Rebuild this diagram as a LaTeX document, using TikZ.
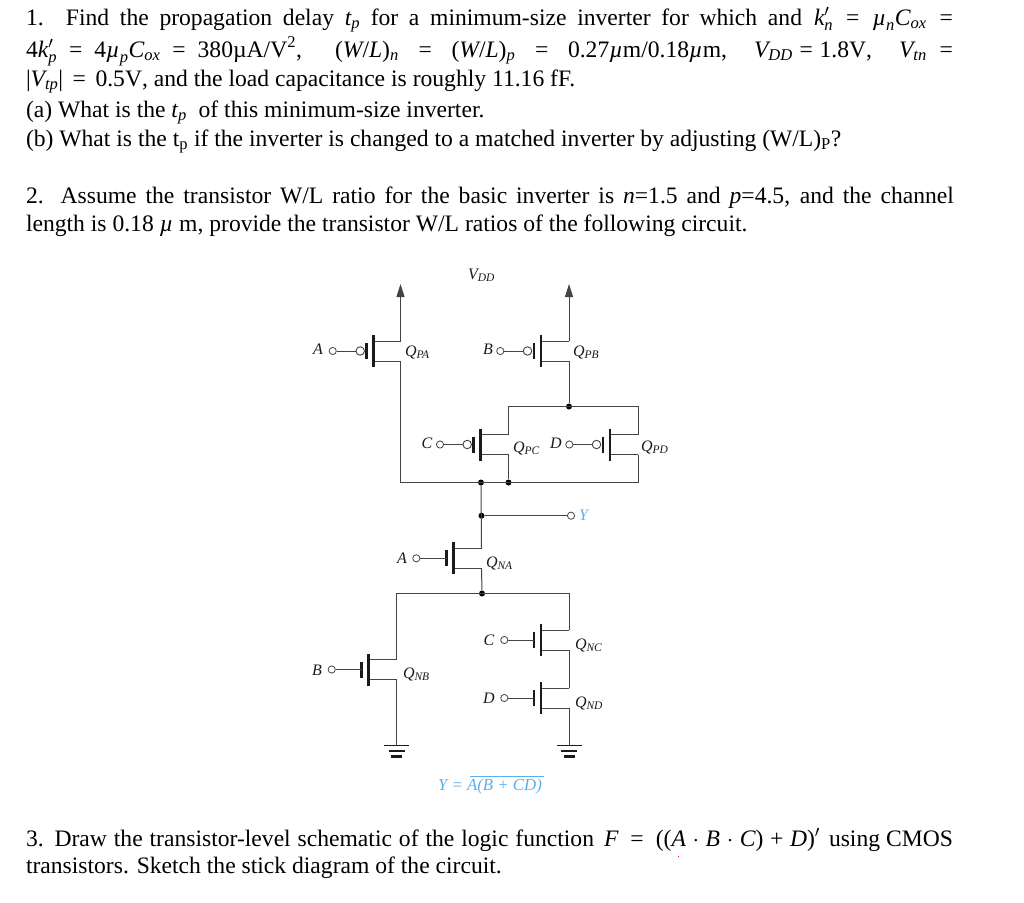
\RequirePackage{fix-cm}
\documentclass[tikz,border=0pt]{standalone}
\usepackage{fontspec}
\setmainfont{Liberation Serif}
\usetikzlibrary{arrows.meta}
\DeclareSymbolFont{myit}{\encodingdefault}{\rmdefault}{m}{it}
\DeclareSymbolFont{myrm}{\encodingdefault}{\rmdefault}{m}{n}
\makeatletter
\AtBeginDocument{%
\@for\@tmpa:=A,B,C,D,F,L,V,W,k,n,o,p,t,x\do{%
  \expandafter\DeclareMathSymbol\expandafter{\@tmpa}{\mathalpha}{myit}{\expandafter`\@tmpa}}%
\@for\@tmpa:=0,1,2,3,4,5,6,7,8,9,.,/,|\do{%
  \expandafter\DeclareMathSymbol\expandafter{\@tmpa}{\mathord}{myrm}{\expandafter`\@tmpa}}%
\DeclareMathSymbol{=}{\mathrel}{myrm}{`=}%
\DeclareMathSymbol{+}{\mathbin}{myrm}{`+}%
\DeclareMathSymbol{(}{\mathopen}{myrm}{`(}%
\DeclareMathSymbol{)}{\mathclose}{myrm}{`)}%
}
\makeatother
\newcommand\mymu{\mbox{\itshape µ}}
\definecolor{wirec}{HTML}{444444}
\definecolor{ink}{HTML}{1A1A1A}
\definecolor{sky}{HTML}{5AB0EE}
\tikzset{
  wire/.style={draw=wirec,line width=1pt},
  heavy/.style={draw=ink,line width=2.9pt},
  term/.style={circle,draw=wirec,fill=white,line width=.8pt,inner sep=0pt,minimum size=7.2pt},
  bubble/.style={circle,draw=wirec,fill=white,line width=.9pt,inner sep=0pt,minimum size=8.5pt},
  junc/.style={circle,fill=black,inner sep=0pt,minimum size=6pt},
  txt/.style={anchor=base west,inner sep=0pt,outer sep=0pt,text=black,font=\fontsize{23.6}{27}\selectfont},
  lab/.style={anchor=west,inner sep=0pt,outer sep=0pt,text=ink,font=\fontsize{16}{18}\selectfont\itshape},
  inl/.style={anchor=center,inner sep=0pt,outer sep=0pt,text=ink,font=\fontsize{16}{18}\selectfont\itshape},
  up/.style={wire,-{Triangle[length=13pt,width=8pt]}},
}
\thickmuskip=5mu plus 8mu
\newcommand\Qs[1]{\textsubscript{\fontsize{11.5}{12}\selectfont #1}}
% name, x, y, width, content: a stretch of a line set to a fixed width
\newcommand\Seg[5]{\node[txt] (#1) at (#2,#3) {\hbox to #4pt{#5}};}
% name, channel x, centre y, input x, right x, kind(0=n,1=p)
\newcommand\Trans[6]{%
  \coordinate (#1-d) at (#5,#3-10);
  \coordinate (#1-s) at (#5,#3+10);
  \coordinate (#1-ct) at (#2,#3-10);
  \coordinate (#1-cb) at (#2,#3+10);
  \coordinate (#1-top) at (#2,#3-16);
  \coordinate (#1-bot) at (#2,#3+16);
  \coordinate (#1-pt) at (#2-7,#3-8);
  \coordinate (#1-pb) at (#2-7,#3+8);
  \coordinate (#1-g) at (#2-7,#3);
  \node[term] (#1-in) at (#4,#3) {};
  \draw[wire] (#1-d) -- (#1-ct);
  \draw[wire] (#1-s) -- (#1-cb);
  \draw[heavy] (#1-top) -- (#1-bot);
  \draw[heavy] (#1-pt) -- (#1-pb);
  \ifnum#6=1
    \node[bubble] (#1-bub) at (#2-13.5,#3) {};
    \draw[wire] (#1-in) -- (#1-bub);
  \else
    \draw[wire] (#1-in) -- (#1-g);
  \fi
}
\newcommand\Gnd[2]{%
  \coordinate (#1) at (#2,745.5);
  \coordinate (#1-a1) at (#2-12.5,745.5);
  \coordinate (#1-a2) at (#2+12.5,745.5);
  \coordinate (#1-b1) at (#2-8,751);
  \coordinate (#1-b2) at (#2+8,751);
  \coordinate (#1-c1) at (#2-5.5,756.5);
  \coordinate (#1-c2) at (#2+5.5,756.5);
  \draw[draw=ink,line width=1.7pt] (#1-a1) -- (#1-a2);
  \draw[draw=ink,line width=1.7pt] (#1-b1) -- (#1-b2);
  \draw[draw=ink,line width=2.4pt] (#1-c1) -- (#1-c2);
}
\begin{document}
\begin{tikzpicture}[x=1pt,y=-1pt]
\useasboundingbox (0,0) rectangle (1024,902);
\fill[white] (0,0) rectangle (1024,902);
% text
\Seg{l1a}{26}{25}{776}{1. Find the propagation delay $t_p$ for a minimum-size inverter for which and}
\Seg{l1b}{814}{25}{139}{$k_n'=\mymu_nC_{ox}=$}
\Seg{l2a}{26}{57}{276}{$4k_p'=4\mymu_pC_{ox}=380\mbox{µA/V}^2$,}
\Seg{l2b}{335}{57}{392}{$(W/L)_n=(W/L)_p=0.27\mymu\mathrm{m}/0.18\mymu\mathrm{m}$,}
\Seg{l2c}{754}{57}{118}{$V_{DD}=1.8\mathrm{V}$,}
\Seg{l2d}{899}{57}{54}{$V_{tn}=$}
\node[txt] (l3) at (26,86) {\hbox to 122pt{$|V_{tp}|=0.5\mathrm{V}$,} and the load capacitance is roughly 11.16 fF.};
\node[txt] (l4) at (26,117) {(a) What is the $t_p$\hspace{6pt} of this minimum-size inverter.};
\node[txt] (l5) at (26,146) {(b) What is the t\textsubscript{p} if the inverter is changed to a matched inverter by adjusting (W/L)\textsubscript{P}?};
\Seg{l6}{26}{203}{928}{2. Assume the transistor W/L ratio for the basic inverter is $n$=1.5 and $p$=4.5, and the channel}
\node[txt] (l7) at (26,231) {length is 0.18 $\mymu$ m, provide the transistor W/L ratios of the following circuit.};
\Seg{l8a}{26}{846}{568}{3. Draw the transistor-level schematic of the logic function}
\Seg{l8b}{604}{846}{216}{$F=((A\cdot B\cdot C)+D)'$}
\Seg{l8c}{829}{846}{124}{using CMOS}
\node[txt] (l9) at (26,873) {transistors. Sketch the stick diagram of the circuit.};
\fill[red] (678,855.5) rectangle (679.2,856.7);
% transistors
\Trans{PA}{373.7}{351}{332.7}{400.5}{1}
\Trans{PB}{541}{351}{500.3}{569}{1}
\Trans{PC}{480.7}{444.5}{440}{508.5}{1}
\Trans{PD}{610}{444.5}{569.3}{638.3}{1}
\Trans{NA}{453.7}{558.3}{416.3}{481.5}{0}
\Trans{NC}{541}{640}{504.3}{569.3}{0}
\Trans{ND}{541}{698}{504.3}{569.3}{0}
\Trans{NB}{368.7}{669.5}{331.7}{396.7}{0}
% junctions and free ends
\coordinate (vddA) at (400.5,284);
\coordinate (vddB) at (569,284);
\node[junc] (j1) at (569,406.5) {};
\coordinate (pcTop) at (508.5,406.5);
\coordinate (pdTop) at (638.3,406.5);
\coordinate (busL) at (400.5,482.5);
\coordinate (busR) at (638.3,482.5);
\node[junc] (j2) at (481,482.5) {};
\node[junc] (j3) at (508.5,482.5) {};
\node[junc] (j4) at (481.5,515.7) {};
\node[term] (Yout) at (571,515.7) {};
\node[junc] (j5) at (482,593.5) {};
\coordinate (gL) at (396.7,593.5);
\coordinate (gR) at (569.3,593.5);
\Gnd{gnd1}{396.7}
\Gnd{gnd2}{569.3}
% wiring
\draw[up] (PA-d) -- (vddA);
\draw[up] (PB-d) -- (vddB);
\draw[wire] (PB-s) -- (j1);
\draw[wire] (PC-d) -- (pcTop) -- (pdTop) -- (PD-d);
\draw[wire] (PA-s) -- (busL) -- (busR) -- (PD-s);
\draw[wire] (PC-s) -- (j3);
\draw[wire] (j2) -- (NA-d);
\draw[wire] (j4) -- (Yout);
\draw[wire] (NA-s) -- (j5);
\draw[wire] (NB-d) -- (gL) -- (gR) -- (NC-d);
\draw[wire] (NC-s) -- (ND-d);
\draw[wire] (ND-s) -- (gnd2);
\draw[wire] (NB-s) -- (gnd1);
% labels
\node[lab] (tVDD) at (468,275) {V\Qs{DD}};
\node[inl] (tA1) at (318,349) {A};
\node[lab] (tPA) at (405,352) {Q\Qs{PA}};
\node[inl] (tB1) at (488,349) {B};
\node[lab] (tPB) at (573,352) {Q\Qs{PB}};
\node[inl] (tC1) at (427,443) {C};
\node[lab] (tPC) at (513,448) {Q\Qs{PC}};
\node[inl] (tD1) at (556,443) {D};
\node[lab] (tPD) at (641,447) {Q\Qs{PD}};
\node[lab,text=sky] (tY) at (579,515) {Y};
\node[inl] (tA2) at (402,558) {A};
\node[lab] (tNA) at (486,563) {Q\Qs{NA}};
\node[inl] (tC2) at (489,640) {C};
\node[lab] (tNC) at (575,645) {Q\Qs{NC}};
\node[inl] (tB2) at (317,670) {B};
\node[lab] (tNB) at (403,674) {Q\Qs{NB}};
\node[inl] (tD2) at (489,698) {D};
\node[lab] (tND) at (575,703) {Q\Qs{ND}};
\node[lab,text=sky,font=\fontsize{16.8}{18}\selectfont\itshape] (tF) at (438,786.5) {Y = A(B + CD)};
\coordinate (ovL) at (470,776.5);
\coordinate (ovR) at (544,776.5);
\draw[draw=sky,line width=.8pt] (ovL) -- (ovR);
\end{tikzpicture}
\end{document}
